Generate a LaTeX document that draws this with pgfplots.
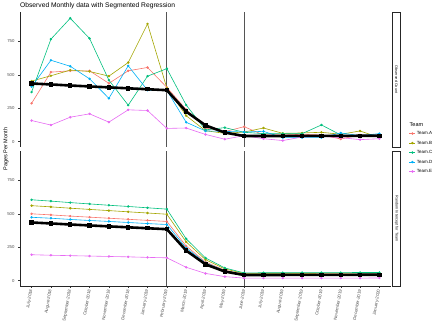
\documentclass[border=0pt]{standalone}
\usepackage{pgfplots}
\pgfplotsset{compat=1.18}
\usepackage{pgfplotstable}
\usepackage{fontspec}
\setmainfont{Liberation Sans}

\definecolor{tA}{HTML}{F8766D}
\definecolor{tB}{HTML}{A3A500}
\definecolor{tC}{HTML}{00BF7D}
\definecolor{tD}{HTML}{00B0F6}
\definecolor{tE}{HTML}{E76BF3}
\definecolor{axgray}{HTML}{4D4D4D}
\definecolor{vgray}{HTML}{555555}

\pgfplotstableread{
idx A B C D E F
0 287 453 371 411 158 435
1 520 493 767 609 124 428
2 530 535 923 564 183 420
3 530 525 772 470 208 413
4 436 490 460 324 146 406
5 530 592 273 567 238 399
6 555 881 490 385 233 392
7 406 401 546 383 99 385
8 240 194 274 145 102 225
9 102 82 88 80 54 122
10 75 62 105 77 18 68
11 112 72 70 72 45 42
12 50 102 60 77 22 42.3
13 50 62 60 30 8 42.6
14 55 65 60 30 35 42.9
15 50 70 125 30 40 43.2
16 20 55 50 65 30 43.5
17 50 80 45 45 15 43.8
18 40 30 45 60 22 44.1
}\obs

\pgfplotstableread{
idx A B C D E F
0 500 561 605 474 194 435
1 492 552 595 467 190 428
2 483 542 584 458 187 420
3 475 533 574 450 184 413
4 467 524 564 443 181 406
5 459 515 555 435 178 399
6 451 506 545 427 174 392
7 443 497 535 420 171 385
8 259 290 313 245 100 225
9 140 157 170 133 54 122
10 78 88 95 74 30 68
11 48 54 58 46 19 42
12 49 55 59 46 19 42.3
13 49 55 59 46 19 42.6
14 49 55 60 47 19 42.9
15 50 56 60 47 19 43.2
16 50 56 60 47 19 43.5
17 50 57 61 48 19 43.8
18 51 57 61 48 20 44.1
}\rint

\pgfplotsset{
  panel/.style={
    scale only axis, width=371pt, height=135pt,
    xmin=-0.6, xmax=18.6, ymin=-40, ymax=970,
    ytick={0,250,500,750},
    yticklabel style={font=\fontsize{4.3}{5}\selectfont, text=axgray},
    /pgf/number format/assume math mode=true,
    tick style={black!80, line width=0.4pt},
    major tick length=2pt, tick align=outside,
    axis line style={black!85, line width=0.5pt, -},
    axis y line*=left,
  },
  team/.style={color=#1, line width=0.6pt, mark=*, mark size=0.9pt, mark options={solid, fill=#1}},
  fixed/.style={black, line width=2.6pt, mark=square*, mark size=0.9pt, forget plot},
  vl/.style={vgray, line width=0.8pt, forget plot},
}

\begin{document}
\begin{tikzpicture}[x=1pt,y=1pt]
\path[use as bounding box] (0,0) rectangle (440,326);

\begin{axis}[panel, at={(20pt,179pt)}, anchor=south west,
  axis x line=none, xtick=\empty,
  legend style={at={(1.0485,0.125)}, anchor=north west, draw=none, fill=none,
    font=\fontsize{4.5}{5}\selectfont, inner sep=0pt, row sep=3pt,
    nodes={inner sep=1pt, text height=3.5pt, text depth=1pt}},
  legend cell align=left,
  legend image code/.code={\draw[mark repeat=2,mark phase=2,#1] plot coordinates {(0pt,0pt) (3pt,0pt) (6pt,0pt)};},
]
\addplot[vl] coordinates {(7,-40) (7,970)};
\addplot[vl] coordinates {(11,-40) (11,970)};
\addplot[team=tA] table[x=idx,y=A] {\obs};
\addplot[team=tB] table[x=idx,y=B] {\obs};
\addplot[team=tC] table[x=idx,y=C] {\obs};
\addplot[team=tD] table[x=idx,y=D] {\obs};
\addplot[team=tE] table[x=idx,y=E] {\obs};
\addplot[fixed] table[x=idx,y=F] {\obs};
\legend{Team.A,Team.B,Team.C,Team.D,Team.E}
\end{axis}

\begin{axis}[panel, at={(20pt,40pt)}, anchor=south west,
  axis x line*=bottom,
  xtick={0,...,18},
  xticklabels={July-2018,August-2018,September-2018,October-2018,November-2018,December-2018,January-2019,February-2019,March-2019,April-2019,May-2019,June-2019,July-2019,August-2019,September-2019,October-2019,November-2019,December-2019,January-2020},
  xticklabel style={font=\fontsize{4.3}{5}\selectfont, text=axgray, rotate=80, anchor=east, inner sep=1.5pt},
]
\addplot[vl] coordinates {(7,-40) (7,970)};
\addplot[vl] coordinates {(11,-40) (11,970)};
\addplot[team=tA] table[x=idx,y=A] {\rint};
\addplot[team=tB] table[x=idx,y=B] {\rint};
\addplot[team=tC] table[x=idx,y=C] {\rint};
\addplot[team=tD] table[x=idx,y=D] {\rint};
\addplot[team=tE] table[x=idx,y=E] {\rint};
\addplot[fixed] table[x=idx,y=F] {\rint};
\end{axis}

% strips
\draw[black!85, line width=0.5pt, fill=white] (392.5,179) rectangle (400.5,314);
\node[rotate=-90, font=\fontsize{3.8}{4}\selectfont, text=black!90] at (396.5,246.5) {Observed Count};
\draw[black!85, line width=0.5pt, fill=white] (392.5,40) rectangle (400.5,175);
\node[rotate=-90, font=\fontsize{3.8}{4}\selectfont, text=black!90] at (396.5,107.5) {Random Intercept for Team};

% titles
\node[anchor=west, font=\fontsize{6.7}{8}\selectfont, inner sep=0pt] at (20,320) {Observed Monthly data with Segmented Regression};
\node[rotate=90, font=\fontsize{5.5}{6}\selectfont, inner sep=0pt] at (6,177) {Pages Per Month};
\node[anchor=west, font=\fontsize{5.5}{6}\selectfont, inner sep=0pt] at (409.5,201) {Team};
\end{tikzpicture}
\end{document}
